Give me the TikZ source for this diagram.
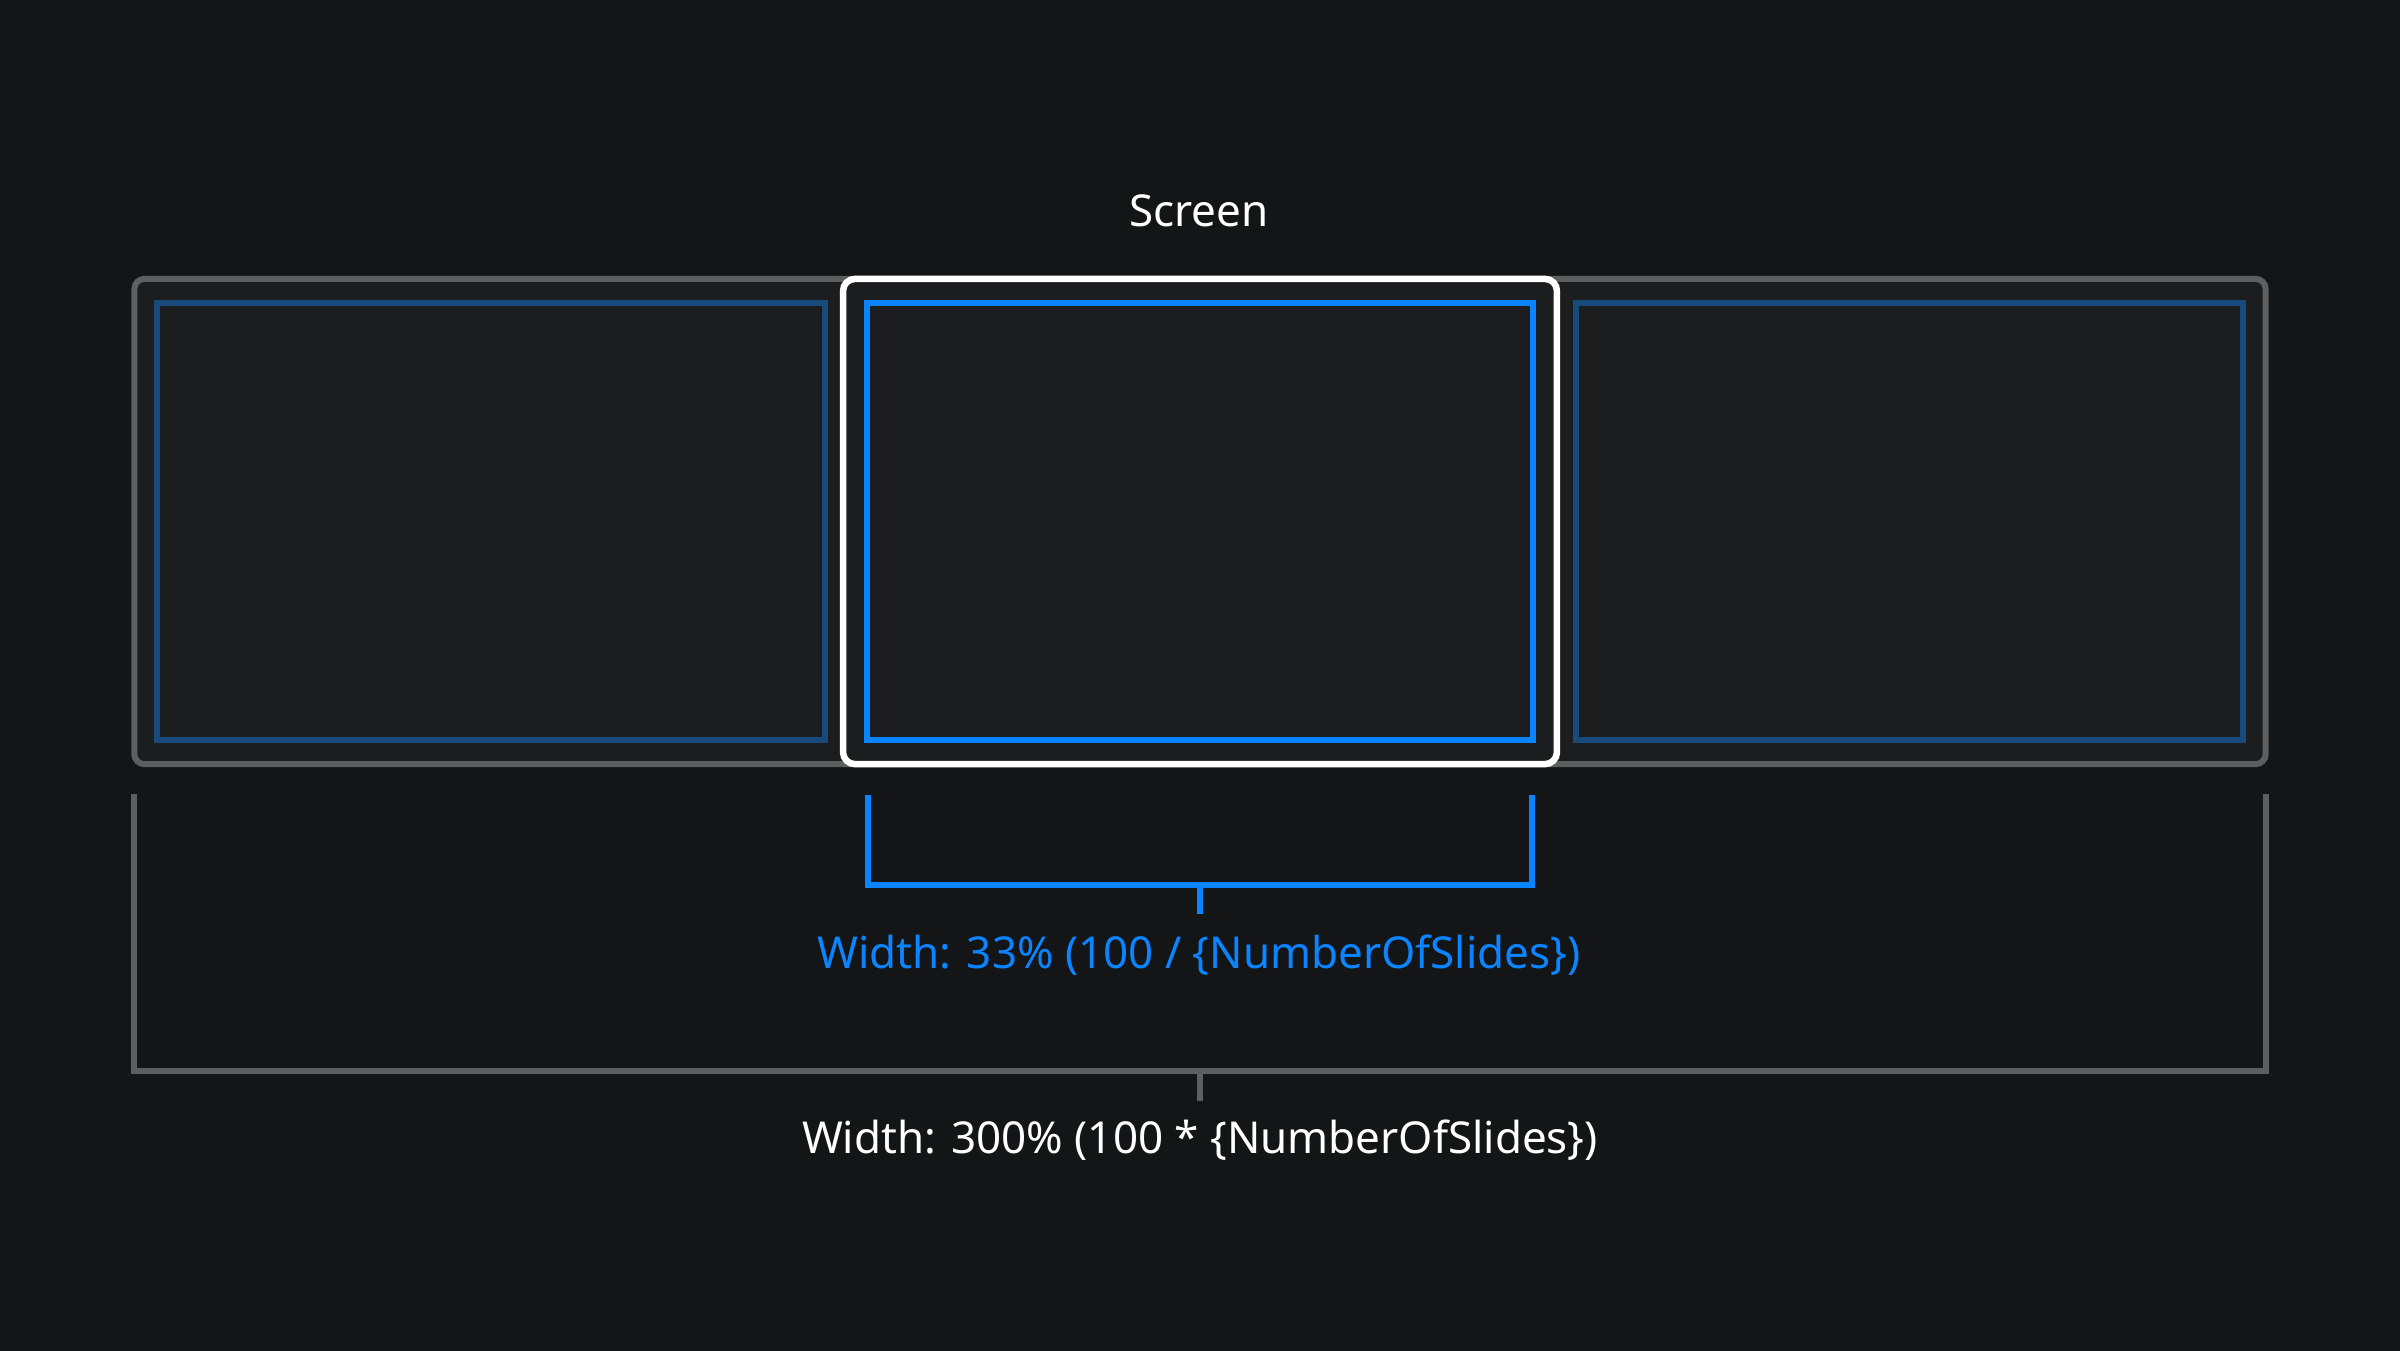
\documentclass[tikz,border=0pt]{standalone}
\usepackage{fontspec}
\setmainfont{Noto Sans}
\definecolor{bg}{HTML}{131517}
\definecolor{panel}{HTML}{1C1D1F}
\definecolor{grayline}{HTML}{5C5E60}
\definecolor{dimblue}{HTML}{184A7C}
\definecolor{brightblue}{HTML}{0A84FF}
\begin{document}
\begin{tikzpicture}[x=0.01cm,y=-0.01cm,
  lbl/.style={anchor=base, inner sep=0pt, font=\fontsize{12.5}{15}\selectfont},
  track/.style={draw=grayline, fill=panel, line width=1.707pt, rounded corners=0.1cm,
    minimum width=21.30cm, minimum height=4.85cm, inner sep=0pt, outer sep=0pt},
  slide/.style={draw=#1, line width=1.707pt, minimum width=6.67cm, minimum height=4.37cm,
    inner sep=0pt, outer sep=0pt},
  screenbox/.style={draw=white, line width=1.85pt, rounded corners=0.12cm,
    minimum width=7.135cm, minimum height=4.85cm, inner sep=0pt, outer sep=0pt},
  bluebr/.style={draw=brightblue, line width=1.707pt},
  graybr/.style={draw=grayline, line width=1.707pt}]
\useasboundingbox (0,0) rectangle (2400,1350);
\fill[bg] (-20,-20) rectangle (2420,1370);

\node[track] (track) at (1200,521.5) {};
\node[slide=dimblue] (left) at (491,521.5) {};
\node[slide=dimblue] (right) at (1909.5,521.5) {};
\node[screenbox] (screen) at (1200,521.5) {};
\node[slide=brightblue, minimum width=6.66cm] (center) at (1200,521.5) {};

\node[lbl, text=white] (screenlbl) at (1199,226.7) {Screen};

% blue bracket
\coordinate (bl) at (868,795);
\coordinate (br) at (1532,795);
\coordinate (bmid) at (1200,884.7);
\coordinate (bstem) at (1200,914);
\draw[bluebr] (bl) |- (br |- bmid) -- (br);
\draw[bluebr] (bmid) -- (bstem);
\node[lbl, text=brightblue] (bluelbl) at (1199,968.3) {Width: 33\% (100 / \{NumberOfSlides\})};

% gray bracket
\coordinate (gl) at (134,794);
\coordinate (gr) at (2266,794);
\coordinate (gmid) at (1200,1071);
\coordinate (gstem) at (1200,1101);
\draw[graybr] (gl) |- (gr |- gmid) -- (gr);
\draw[graybr] (gmid) -- (gstem);
\node[lbl, text=white] (graylbl) at (1200,1153.3) {Width: 300\% (100 * \{NumberOfSlides\})};
\end{tikzpicture}
\end{document}
